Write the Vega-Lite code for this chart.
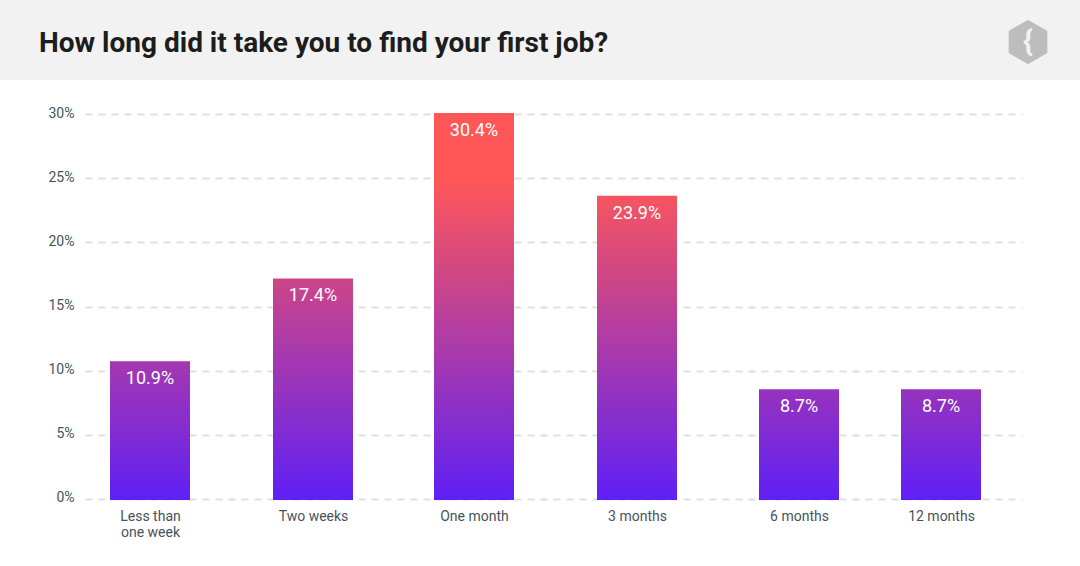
{
  "$schema": "https://vega.github.io/schema/vega-lite/v6.json",
  "description": "How long did it take you to find your first job?",
  "background": "white",
  "autosize": "none",
  "padding": {"left": 85, "top": 113, "right": 58, "bottom": 66},
  "width": 937,
  "height": 387,
  "config": {
    "view": {"stroke": null},
    "font": "Roboto",
    "axis": {"labelFont": "Roboto"}
  },
  "layer": [
    {
      "data": {"values": [{"title": "How long did it take you to find your first job?", "brace": "{"}]},
      "encoding": {
        "x": {"datum": 1028, "type": "quantitative", "scale": {"domain": [0, 1080], "range": [-85, 995]}, "axis": null},
        "y": {"datum": 42, "type": "quantitative", "scale": {"domain": [0, 80], "range": [-113, -33]}, "axis": null}
      },
      "layer": [
        {
          "mark": {"type": "rect", "color": "#f2f2f2"},
          "encoding": {
            "x": {"datum": 0, "type": "quantitative", "scale": {"domain": [0, 1080], "range": [-85, 995]}, "axis": null},
            "x2": {"datum": 1080},
            "y": {"datum": 0, "type": "quantitative", "scale": {"domain": [0, 80], "range": [-113, -33]}, "axis": null},
            "y2": {"datum": 80}
          }
        },
        {
          "mark": {"type": "text", "align": "left", "baseline": "middle", "font": "Roboto", "fontWeight": "bold", "fontSize": 28, "color": "#1d1d1d"},
          "encoding": {
            "x": {"datum": 39, "type": "quantitative", "scale": {"domain": [0, 1080], "range": [-85, 995]}, "axis": null},
            "y": {"datum": 44, "type": "quantitative", "scale": {"domain": [0, 80], "range": [-113, -33]}, "axis": null},
            "text": {"field": "title"}
          }
        },
        {
          "mark": {"type": "point", "shape": "M0,-1L0.87,-0.5L0.87,0.5L0,1L-0.87,0.5L-0.87,-0.5Z", "filled": true, "color": "#bdbdbd", "stroke": "#bdbdbd", "strokeWidth": 3, "strokeJoin": "round", "size": 1681, "opacity": 1}
        },
        {
          "mark": {"type": "text", "align": "center", "baseline": "middle", "font": "Roboto", "fontWeight": "bold", "fontSize": 30, "color": "#f2f2f2"},
          "encoding": {
            "text": {"field": "brace"}
          }
        }
      ]
    },
    {
      "data": {
        "values": [
          {"order": 0, "answer": "Less than one week", "share": 0.109},
          {"order": 1, "answer": "Two weeks", "share": 0.174},
          {"order": 2, "answer": "One month", "share": 0.304},
          {"order": 3, "answer": "3 months", "share": 0.239},
          {"order": 4, "answer": "6 months", "share": 0.087},
          {"order": 5, "answer": "12 months", "share": 0.087}
        ]
      },
      "encoding": {
        "x": {
          "field": "order",
          "type": "quantitative",
          "scale": {"domain": [-1, 0, 1, 2, 3, 4, 5, 6], "range": [0, 65, 228, 389, 552, 714, 856, 937]},
          "axis": {
            "title": null,
            "values": [0, 1, 2, 3, 4, 5],
            "domain": false,
            "ticks": false,
            "grid": false,
            "labelPadding": 9,
            "labelFontSize": 14,
            "labelColor": "#46525c",
            "labelLineHeight": 16,
            "labelOverlap": false,
            "labelFlush": false,
            "labelExpr": "[['Less than', 'one week'], 'Two weeks', 'One month', '3 months', '6 months', '12 months'][datum.value]"
          }
        },
        "y": {"field": "share", "type": "quantitative", "scale": {"domain": [0, 0.304]}, "axis": null}
      },
      "layer": [
        {
          "mark": {"type": "point", "opacity": 0},
          "encoding": {
            "y": {
              "field": "share",
              "type": "quantitative",
              "scale": {"domain": [-0.00078, 0.3008]},
              "axis": {
                "title": null,
                "values": [0, 0.05, 0.1, 0.15, 0.2, 0.25, 0.3],
                "format": ".0%",
                "domain": false,
                "ticks": false,
                "labelPadding": 11,
                "labelFontSize": 14,
                "labelColor": "#46525c",
                "labelOffset": -1,
                "grid": true,
                "gridColor": "#e0e0e0",
                "gridWidth": 2,
                "gridDash": [7, 6]
              }
            }
          }
        },
        {
          "transform": [{"filter": "datum.order == 0"}],
          "mark": {"type": "bar", "orient": "vertical", "width": 80, "color": {"gradient": "linear", "x1": 0, "x2": 0, "y1": 1, "y2": -1.286, "stops": [{"offset": 0, "color": "#5f20f5"}, {"offset": 1, "color": "#ff5757"}]}}
        },
        {
          "transform": [{"filter": "datum.order == 1"}],
          "mark": {"type": "bar", "orient": "vertical", "width": 80, "color": {"gradient": "linear", "x1": 0, "x2": 0, "y1": 1, "y2": -0.461, "stops": [{"offset": 0, "color": "#5f20f5"}, {"offset": 1, "color": "#ff5757"}]}}
        },
        {
          "transform": [{"filter": "datum.order == 2"}],
          "mark": {"type": "bar", "orient": "vertical", "width": 80, "color": {"gradient": "linear", "x1": 0, "x2": 0, "y1": 1, "y2": 0.173, "stops": [{"offset": 0, "color": "#5f20f5"}, {"offset": 1, "color": "#ff5757"}]}}
        },
        {
          "transform": [{"filter": "datum.order == 3"}],
          "mark": {"type": "bar", "orient": "vertical", "width": 80, "color": {"gradient": "linear", "x1": 0, "x2": 0, "y1": 1, "y2": -0.053, "stops": [{"offset": 0, "color": "#5f20f5"}, {"offset": 1, "color": "#ff5757"}]}}
        },
        {
          "transform": [{"filter": "datum.order >= 4"}],
          "mark": {"type": "bar", "orient": "vertical", "width": 80, "color": {"gradient": "linear", "x1": 0, "x2": 0, "y1": 1, "y2": -1.883, "stops": [{"offset": 0, "color": "#5f20f5"}, {"offset": 1, "color": "#ff5757"}]}}
        },
        {
          "mark": {"type": "text", "align": "center", "baseline": "middle", "dy": 18, "fontSize": 18, "font": "Roboto", "color": "white"},
          "encoding": {
            "text": {"field": "share", "type": "quantitative", "format": ".1%"}
          }
        }
      ],
      "resolve": {"scale": {"y": "independent"}}
    }
  ],
  "resolve": {"scale": {"x": "independent", "y": "independent"}}
}
